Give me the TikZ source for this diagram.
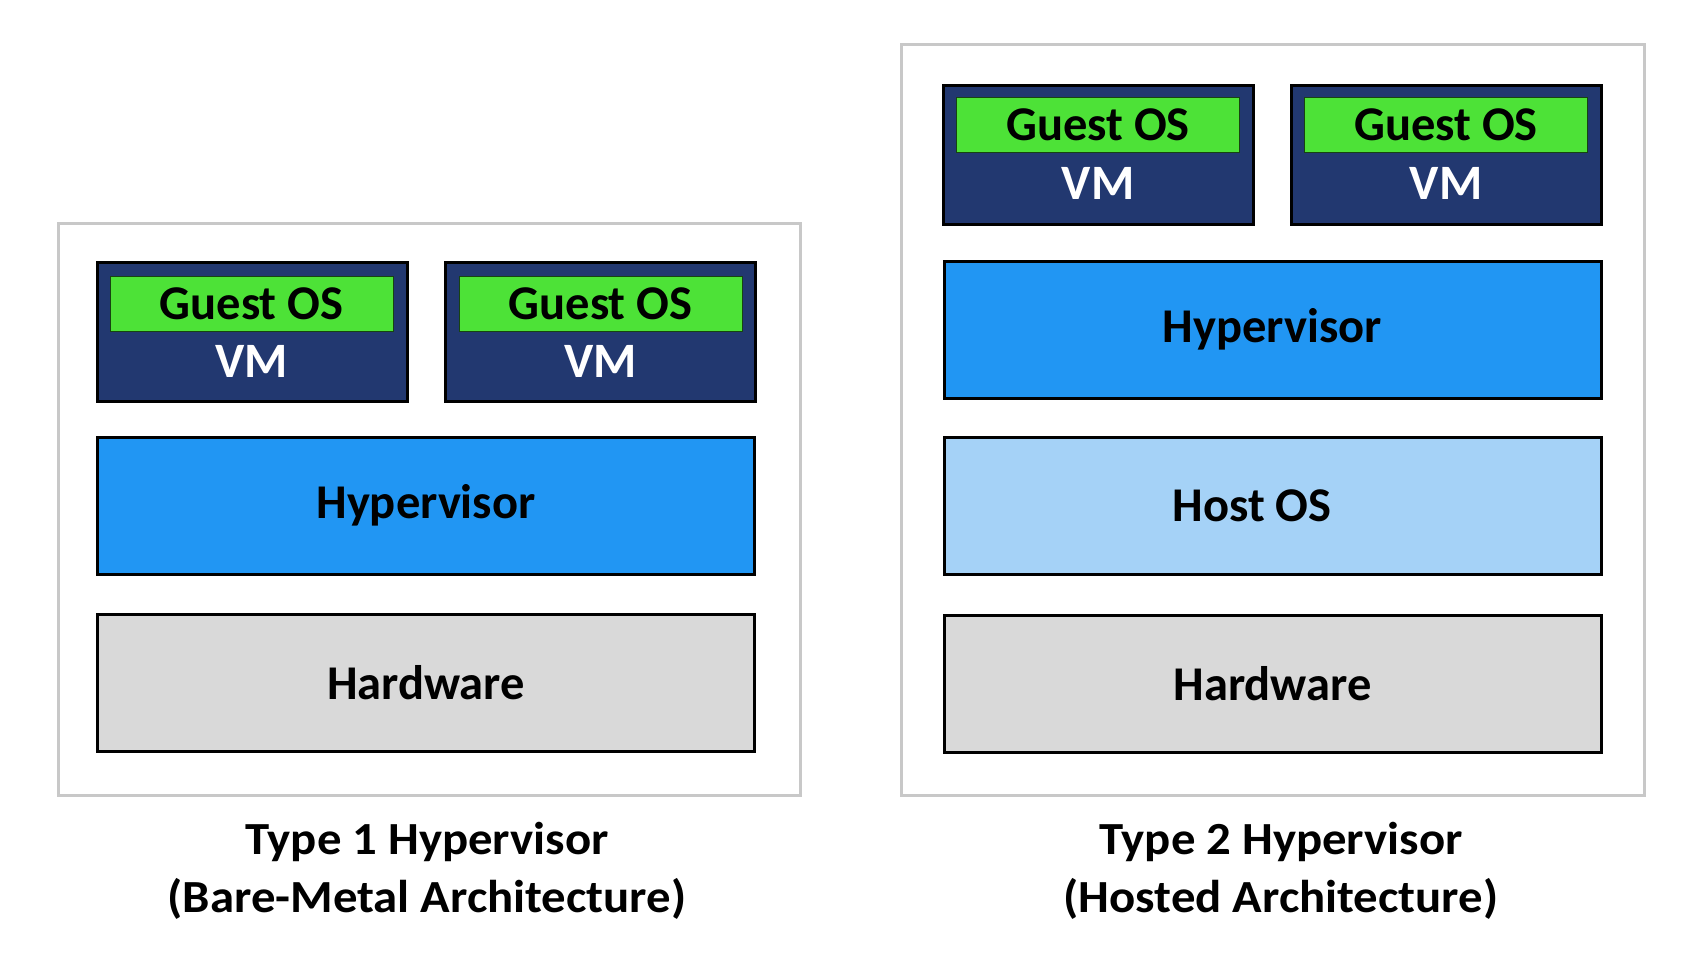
\documentclass[tikz,border=0pt]{standalone}
\usepackage{fontspec}
\setmainfont{Carlito}
\definecolor{navy}{RGB}{34,56,112}
\definecolor{guestgreen}{RGB}{77,226,55}
\definecolor{hypblue}{RGB}{33,150,243}
\definecolor{hostblue}{RGB}{165,210,247}
\definecolor{hwgray}{RGB}{217,217,217}
\definecolor{framegray}{RGB}{200,200,200}
\begin{document}
\begin{tikzpicture}[x=1pt,y=-1pt,
  frame/.style={draw=framegray,line width=3pt,fill=white,minimum width=#1,inner sep=0pt,outer sep=0pt},
  layer/.style={draw=black,line width=3pt,inner sep=0pt,outer sep=0pt,minimum width=657pt,minimum height=137pt,font=\fontsize{48.5}{54}\selectfont\bfseries},
  vmbox/.style={draw=black,line width=3pt,fill=navy,inner sep=0pt,outer sep=0pt,minimum width=310pt,minimum height=139pt},
  guest/.style={draw=black!70!guestgreen,line width=1pt,fill=guestgreen,inner sep=0pt,minimum width=283pt,minimum height=55pt,font=\fontsize{48.5}{54}\selectfont\bfseries},
  vmtext/.style={text=white,inner sep=0pt,font=\fontsize{49.5}{54}\selectfont\bfseries},
  hosttext/.style={inner sep=0pt,font=\fontsize{48.5}{54}\selectfont\bfseries},
  caption/.style={align=center,inner sep=0pt,xscale=1.06,font=\fontsize{46}{58.5}\selectfont\bfseries}]
\useasboundingbox[fill=white] (0,0) rectangle (1696,964);
% frames
\node[frame=742pt,minimum height=572pt] (f1) at (429,509) {};
\node[frame=743pt,minimum height=751pt] (f2) at (1272.5,419.5) {};
% Type 1
\node[vmbox] (l1) at (252.5,332) {};
\node[guest] (lg1) at (251.5,303.5) {Guest OS};
\node[vmtext] (lv1) at (251.5,361) {VM};
\node[vmbox] (l2) at (600.5,332) {};
\node[guest] (lg2) at (600.5,303.5) {Guest OS};
\node[vmtext] (lv2) at (600.5,361) {VM};
\node[layer,fill=hypblue] (lh) at (426,505.5) {Hypervisor};
\node[layer,fill=hwgray] (lw) at (426,683) {Hardware};
% Type 2
\node[vmbox] (r1) at (1098,155) {};
\node[guest] (rg1) at (1098,125) {Guest OS};
\node[vmtext] (rv1) at (1098,183) {VM};
\node[vmbox] (r2) at (1446,155) {};
\node[guest] (rg2) at (1446,125) {Guest OS};
\node[vmtext] (rv2) at (1446,183) {VM};
\node[layer,fill=hypblue] (rh) at (1272.5,329.5) {Hypervisor};
\node[layer,fill=hostblue] (ro) at (1272.5,506) {};
\node[hosttext] (rot) at (1252,506) {Host OS};
\node[layer,fill=hwgray] (rw) at (1272.5,683.5) {Hardware};
% captions
\node[caption] (c1) at (427,871) {Type 1 Hypervisor\\(Bare-Metal Architecture)};
\node[caption] (c2) at (1281,871) {Type 2 Hypervisor\\(Hosted Architecture)};
\end{tikzpicture}
\end{document}
